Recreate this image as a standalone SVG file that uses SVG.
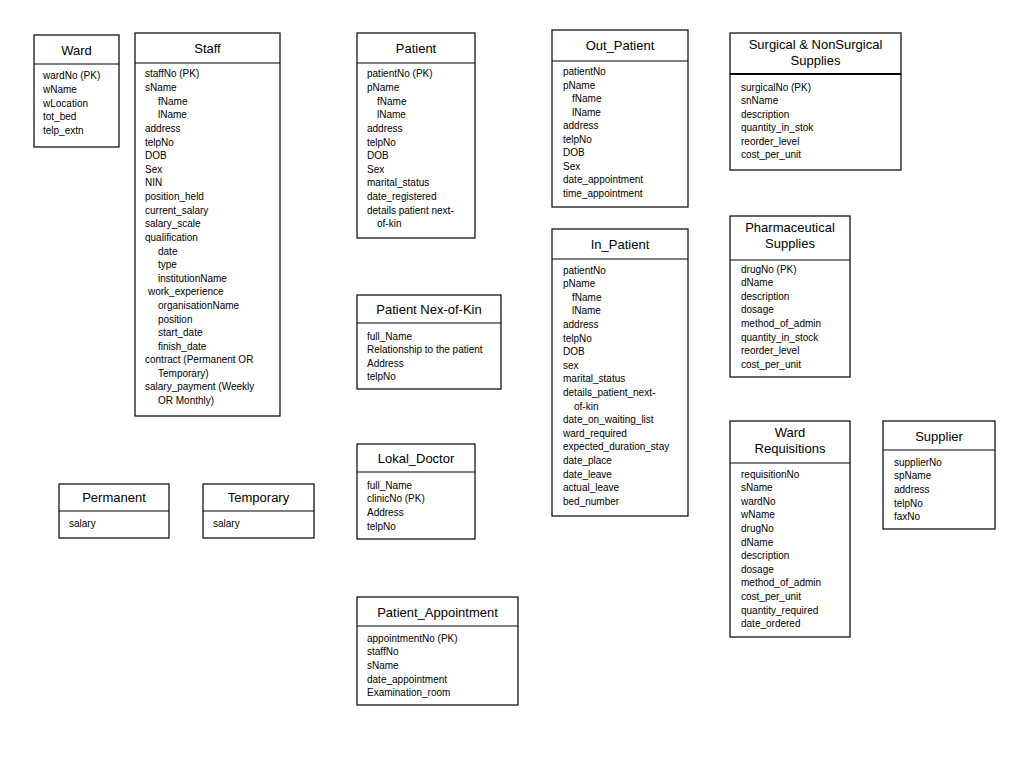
<svg xmlns="http://www.w3.org/2000/svg" width="1020" height="765" viewBox="0 0 1020 765">
<style>
rect{fill:#fff;stroke:#000;stroke-width:1.2}
line{stroke:#000;stroke-width:1.2}
.t{font-family:"Liberation Sans",Arial,sans-serif;font-size:13px;text-anchor:middle}
.f{font-family:"Liberation Sans",Arial,sans-serif;font-size:10px}
</style>
<rect width="1020" height="765" style="stroke:none"/>
<g id="connectors"/>
<g id="ward"><rect x="34" y="35" width="85" height="112"/><line x1="34" y1="64" x2="119" y2="64"/><text class="t" x="76.5" y="55">Ward</text>
<text class="f" x="43" y="79">wardNo   (PK)</text><text class="f" x="43" y="93">wName</text><text class="f" x="43" y="107">wLocation</text><text class="f" x="43" y="120">tot_bed</text><text class="f" x="43" y="134">telp_extn</text></g>
<g id="staff"><rect x="135" y="33" width="145" height="383"/><line x1="135" y1="63" x2="280" y2="63"/><text class="t" x="207.5" y="53">Staff</text>
<text class="f" x="145" y="77">staffNo      (PK)</text><text class="f" x="145" y="91">sName</text><text class="f" x="158" y="105">fName</text><text class="f" x="158" y="118">lName</text><text class="f" x="145" y="132">address</text><text class="f" x="145" y="146">telpNo</text><text class="f" x="145" y="159">DOB</text><text class="f" x="145" y="173">Sex</text><text class="f" x="145" y="186">NIN</text><text class="f" x="145" y="200">position_held</text><text class="f" x="145" y="214">current_salary</text><text class="f" x="145" y="227">salary_scale</text><text class="f" x="145" y="241">qualification</text><text class="f" x="158" y="255">date</text><text class="f" x="158" y="268">type</text><text class="f" x="158" y="282">institutionName</text><text class="f" x="148" y="295">work_experience</text><text class="f" x="158" y="309">organisationName</text><text class="f" x="158" y="323">position</text><text class="f" x="158" y="336">start_date</text><text class="f" x="158" y="350">finish_date</text><text class="f" x="145" y="363">contract (Permanent OR</text><text class="f" x="158" y="377">Temporary)</text><text class="f" x="145" y="390">salary_payment (Weekly</text><text class="f" x="158" y="404">OR Monthly)</text></g>
<g id="patient"><rect x="357" y="33" width="118" height="205"/><line x1="357" y1="63" x2="475" y2="63"/><text class="t" x="416" y="53">Patient</text>
<text class="f" x="367" y="77">patientNo     (PK)</text><text class="f" x="367" y="91">pName</text><text class="f" x="377" y="105">fName</text><text class="f" x="377" y="118">lName</text><text class="f" x="367" y="132">address</text><text class="f" x="367" y="146">telpNo</text><text class="f" x="367" y="159">DOB</text><text class="f" x="367" y="173">Sex</text><text class="f" x="367" y="186">marital_status</text><text class="f" x="367" y="200">date_registered</text><text class="f" x="367" y="214">details patient next-</text><text class="f" x="377" y="227">of-kin</text></g>
<g id="outpatient"><rect x="552" y="30" width="136" height="177"/><line x1="552" y1="61" x2="688" y2="61"/><text class="t" x="620" y="50">Out_Patient</text>
<text class="f" x="563" y="75">patientNo</text><text class="f" x="563" y="89">pName</text><text class="f" x="572" y="102">fName</text><text class="f" x="572" y="116">lName</text><text class="f" x="563" y="129">address</text><text class="f" x="563" y="143">telpNo</text><text class="f" x="563" y="156">DOB</text><text class="f" x="563" y="170">Sex</text><text class="f" x="563" y="183">date_appointment</text><text class="f" x="563" y="197">time_appointment</text></g>
<g id="surgical"><rect x="730" y="33" width="171" height="137"/><line x1="730" y1="74" x2="901" y2="74" style="stroke-width:2.2"/><text class="t" x="815.5" y="49">Surgical &amp; NonSurgical</text><text class="t" x="815.5" y="65">Supplies</text>
<text class="f" x="741" y="91">surgicalNo     (PK)</text><text class="f" x="741" y="104">snName</text><text class="f" x="741" y="118">description</text><text class="f" x="741" y="131">quantity_in_stok</text><text class="f" x="741" y="145">reorder_level</text><text class="f" x="741" y="158">cost_per_unit</text></g>
<g id="pharma"><rect x="730" y="216" width="120" height="161"/><line x1="730" y1="260" x2="850" y2="260"/><text class="t" x="790" y="232">Pharmaceutical</text><text class="t" x="790" y="248">Supplies</text>
<text class="f" x="741" y="273">drugNo    (PK)</text><text class="f" x="741" y="286">dName</text><text class="f" x="741" y="300">description</text><text class="f" x="741" y="313">dosage</text><text class="f" x="741" y="327">method_of_admin</text><text class="f" x="741" y="341">quantity_in_stock</text><text class="f" x="741" y="354">reorder_level</text><text class="f" x="741" y="368">cost_per_unit</text></g>
<g id="inpatient"><rect x="552" y="229" width="136" height="287"/><line x1="552" y1="259" x2="688" y2="259"/><text class="t" x="620" y="249">In_Patient</text>
<text class="f" x="563" y="274">patientNo</text><text class="f" x="563" y="287">pName</text><text class="f" x="572" y="301">fName</text><text class="f" x="572" y="314">lName</text><text class="f" x="563" y="328">address</text><text class="f" x="563" y="342">telpNo</text><text class="f" x="563" y="355">DOB</text><text class="f" x="563" y="369">sex</text><text class="f" x="563" y="382">marital_status</text><text class="f" x="563" y="396">details_patient_next-</text><text class="f" x="574" y="410">of-kin</text><text class="f" x="563" y="423">date_on_waiting_list</text><text class="f" x="563" y="437">ward_required</text><text class="f" x="563" y="450">expected_duration_stay</text><text class="f" x="563" y="464">date_place</text><text class="f" x="563" y="478">date_leave</text><text class="f" x="563" y="491">actual_leave</text><text class="f" x="563" y="505">bed_number</text></g>
<g id="nextofkin"><rect x="357" y="295" width="144" height="94"/><line x1="357" y1="323" x2="501" y2="323"/><text class="t" x="429" y="314">Patient Nex-of-Kin</text>
<text class="f" x="367" y="340">full_Name</text><text class="f" x="367" y="353">Relationship to the patient</text><text class="f" x="367" y="367">Address</text><text class="f" x="367" y="380">telpNo</text></g>
<g id="doctor"><rect x="357" y="444" width="118" height="95"/><line x1="357" y1="472" x2="475" y2="472"/><text class="t" x="416" y="463">Lokal_Doctor</text>
<text class="f" x="367" y="489">full_Name</text><text class="f" x="367" y="502">clinicNo (PK)</text><text class="f" x="367" y="516">Address</text><text class="f" x="367" y="530">telpNo</text></g>
<g id="appointment"><rect x="357" y="597" width="161" height="108"/><line x1="357" y1="626" x2="518" y2="626"/><text class="t" x="437.5" y="617">Patient_Appointment</text>
<text class="f" x="367" y="642">appointmentNo    (PK)</text><text class="f" x="367" y="655">staffNo</text><text class="f" x="367" y="669">sName</text><text class="f" x="367" y="683">date_appointment</text><text class="f" x="367" y="696">Examination_room</text></g>
<g id="requisitions"><rect x="730" y="421" width="120" height="216"/><line x1="730" y1="463" x2="850" y2="463"/><text class="t" x="790" y="437">Ward</text><text class="t" x="790" y="453">Requisitions</text>
<text class="f" x="741" y="478">requisitionNo</text><text class="f" x="741" y="491">sName</text><text class="f" x="741" y="505">wardNo</text><text class="f" x="741" y="518">wName</text><text class="f" x="741" y="532">drugNo</text><text class="f" x="741" y="546">dName</text><text class="f" x="741" y="559">description</text><text class="f" x="741" y="573">dosage</text><text class="f" x="741" y="586">method_of_admin</text><text class="f" x="741" y="600">cost_per_unit</text><text class="f" x="741" y="614">quantity_required</text><text class="f" x="741" y="627">date_ordered</text></g>
<g id="supplier"><rect x="883" y="421" width="112" height="108"/><line x1="883" y1="450" x2="995" y2="450"/><text class="t" x="939" y="441">Supplier</text>
<text class="f" x="894" y="466">supplierNo</text><text class="f" x="894" y="479">spName</text><text class="f" x="894" y="493">address</text><text class="f" x="894" y="507">telpNo</text><text class="f" x="894" y="520">faxNo</text></g>
<g id="permanent"><rect x="59" y="484" width="110" height="54"/><line x1="59" y1="511" x2="169" y2="511"/><text class="t" x="114" y="502">Permanent</text><text class="f" x="69" y="527">salary</text></g>
<g id="temporary"><rect x="203" y="484" width="111" height="54"/><line x1="203" y1="511" x2="314" y2="511"/><text class="t" x="258.5" y="502">Temporary</text><text class="f" x="213" y="527">salary</text></g>
</svg>
